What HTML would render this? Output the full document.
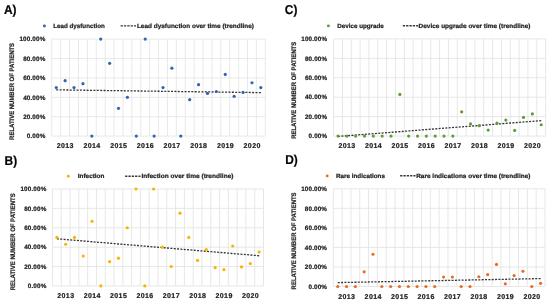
<!DOCTYPE html>
<html><head><meta charset="utf-8"><style>
html,body{margin:0;padding:0;background:#fff;}
svg{display:block;filter:blur(0.3px);}
text{text-rendering:geometricPrecision;stroke:#1e1e1e;stroke-width:0.22px;font-family:"Liberation Sans",sans-serif;font-weight:bold;}
</style></head><body>
<svg width="550" height="304" viewBox="0 0 550 304">
<rect width="550" height="304" fill="#fff"/>
<g stroke="#e6e6e6" stroke-width="0.9"><line x1="51.80" y1="39.10" x2="51.80" y2="136.10"/><line x1="60.70" y1="39.10" x2="60.70" y2="136.10"/><line x1="69.59" y1="39.10" x2="69.59" y2="136.10"/><line x1="78.49" y1="39.10" x2="78.49" y2="136.10"/><line x1="87.38" y1="39.10" x2="87.38" y2="136.10"/><line x1="96.28" y1="39.10" x2="96.28" y2="136.10"/><line x1="105.17" y1="39.10" x2="105.17" y2="136.10"/><line x1="114.07" y1="39.10" x2="114.07" y2="136.10"/><line x1="122.97" y1="39.10" x2="122.97" y2="136.10"/><line x1="131.86" y1="39.10" x2="131.86" y2="136.10"/><line x1="140.76" y1="39.10" x2="140.76" y2="136.10"/><line x1="149.65" y1="39.10" x2="149.65" y2="136.10"/><line x1="158.55" y1="39.10" x2="158.55" y2="136.10"/><line x1="167.45" y1="39.10" x2="167.45" y2="136.10"/><line x1="176.34" y1="39.10" x2="176.34" y2="136.10"/><line x1="185.24" y1="39.10" x2="185.24" y2="136.10"/><line x1="194.13" y1="39.10" x2="194.13" y2="136.10"/><line x1="203.03" y1="39.10" x2="203.03" y2="136.10"/><line x1="211.93" y1="39.10" x2="211.93" y2="136.10"/><line x1="220.82" y1="39.10" x2="220.82" y2="136.10"/><line x1="229.72" y1="39.10" x2="229.72" y2="136.10"/><line x1="238.61" y1="39.10" x2="238.61" y2="136.10"/><line x1="247.51" y1="39.10" x2="247.51" y2="136.10"/><line x1="256.40" y1="39.10" x2="256.40" y2="136.10"/><line x1="265.30" y1="39.10" x2="265.30" y2="136.10"/><line x1="51.80" y1="39.10" x2="265.30" y2="39.10"/><line x1="51.80" y1="58.50" x2="265.30" y2="58.50"/><line x1="51.80" y1="77.90" x2="265.30" y2="77.90"/><line x1="51.80" y1="97.30" x2="265.30" y2="97.30"/><line x1="51.80" y1="116.70" x2="265.30" y2="116.70"/><line x1="51.80" y1="136.10" x2="265.30" y2="136.10"/></g>
<g font-size="6.3" fill="#1e1e1e" letter-spacing="0.15"><text x="45.40" y="41.30" text-anchor="end">100.00%</text><text x="45.40" y="60.70" text-anchor="end">80.00%</text><text x="45.40" y="80.10" text-anchor="end">60.00%</text><text x="45.40" y="99.50" text-anchor="end">40.00%</text><text x="45.40" y="118.90" text-anchor="end">20.00%</text><text x="45.40" y="138.30" text-anchor="end">0.00%</text></g>
<g font-size="7" fill="#1e1e1e" letter-spacing="0.4"><text x="65.34" y="148.05" text-anchor="middle">2013</text><text x="92.03" y="148.05" text-anchor="middle">2014</text><text x="118.72" y="148.05" text-anchor="middle">2015</text><text x="145.41" y="148.05" text-anchor="middle">2016</text><text x="172.09" y="148.05" text-anchor="middle">2017</text><text x="198.78" y="148.05" text-anchor="middle">2018</text><text x="225.47" y="148.05" text-anchor="middle">2019</text><text x="252.16" y="148.05" text-anchor="middle">2020</text></g>
<text x="-48.5" y="0" font-size="6.5" fill="#1e1e1e" textLength="97" lengthAdjust="spacingAndGlyphs" transform="translate(14.00,91.40) rotate(-90)">RELATIVE NUMBER OF PATIENTS</text>
<text x="3.90" y="13.80" font-size="12.9" fill="#000" stroke="#000" textLength="12.60" lengthAdjust="spacingAndGlyphs">A)</text>
<circle cx="44.40" cy="26.00" r="1.45" fill="#3462B8"/>
<text x="53.30" y="27.90" font-size="6.2" fill="#1e1e1e" textLength="51.5" lengthAdjust="spacingAndGlyphs">Lead dysfunction</text>
<line x1="120.60" y1="25.90" x2="136.00" y2="25.90" stroke="#383838" stroke-width="1.4" stroke-dasharray="2.3 1.03"/>
<text x="136.90" y="27.90" font-size="6.2" fill="#1e1e1e" textLength="117.0" lengthAdjust="spacingAndGlyphs">Lead dysfunction over time (trendline)</text>
<line x1="56.25" y1="89.85" x2="260.85" y2="92.64" stroke="#333" stroke-width="1.3" stroke-dasharray="2.000 1.377"/>
<g fill="#3462B8"><circle cx="56.25" cy="87.60" r="1.6"/><circle cx="65.14" cy="80.71" r="1.6"/><circle cx="74.04" cy="87.60" r="1.6"/><circle cx="82.94" cy="83.72" r="1.6"/><circle cx="91.83" cy="136.10" r="1.6"/><circle cx="100.73" cy="39.10" r="1.6"/><circle cx="109.62" cy="63.35" r="1.6"/><circle cx="118.52" cy="108.36" r="1.6"/><circle cx="127.41" cy="97.30" r="1.6"/><circle cx="136.31" cy="136.10" r="1.6"/><circle cx="145.21" cy="39.10" r="1.6"/><circle cx="154.10" cy="136.10" r="1.6"/><circle cx="163.00" cy="87.60" r="1.6"/><circle cx="171.89" cy="68.20" r="1.6"/><circle cx="180.79" cy="136.10" r="1.6"/><circle cx="189.69" cy="99.72" r="1.6"/><circle cx="198.58" cy="84.69" r="1.6"/><circle cx="207.48" cy="93.42" r="1.6"/><circle cx="216.37" cy="91.48" r="1.6"/><circle cx="225.27" cy="74.41" r="1.6"/><circle cx="234.16" cy="96.33" r="1.6"/><circle cx="243.06" cy="92.45" r="1.6"/><circle cx="251.96" cy="82.75" r="1.6"/><circle cx="260.85" cy="87.60" r="1.6"/></g>
<g stroke="#e4e4e4" stroke-width="0.9"><line x1="52.50" y1="189.00" x2="52.50" y2="285.90"/><line x1="61.29" y1="189.00" x2="61.29" y2="285.90"/><line x1="70.08" y1="189.00" x2="70.08" y2="285.90"/><line x1="78.88" y1="189.00" x2="78.88" y2="285.90"/><line x1="87.67" y1="189.00" x2="87.67" y2="285.90"/><line x1="96.46" y1="189.00" x2="96.46" y2="285.90"/><line x1="105.25" y1="189.00" x2="105.25" y2="285.90"/><line x1="114.04" y1="189.00" x2="114.04" y2="285.90"/><line x1="122.83" y1="189.00" x2="122.83" y2="285.90"/><line x1="131.62" y1="189.00" x2="131.62" y2="285.90"/><line x1="140.42" y1="189.00" x2="140.42" y2="285.90"/><line x1="149.21" y1="189.00" x2="149.21" y2="285.90"/><line x1="158.00" y1="189.00" x2="158.00" y2="285.90"/><line x1="166.79" y1="189.00" x2="166.79" y2="285.90"/><line x1="175.58" y1="189.00" x2="175.58" y2="285.90"/><line x1="184.38" y1="189.00" x2="184.38" y2="285.90"/><line x1="193.17" y1="189.00" x2="193.17" y2="285.90"/><line x1="201.96" y1="189.00" x2="201.96" y2="285.90"/><line x1="210.75" y1="189.00" x2="210.75" y2="285.90"/><line x1="219.54" y1="189.00" x2="219.54" y2="285.90"/><line x1="228.33" y1="189.00" x2="228.33" y2="285.90"/><line x1="237.12" y1="189.00" x2="237.12" y2="285.90"/><line x1="245.92" y1="189.00" x2="245.92" y2="285.90"/><line x1="254.71" y1="189.00" x2="254.71" y2="285.90"/><line x1="263.50" y1="189.00" x2="263.50" y2="285.90"/><line x1="52.50" y1="189.00" x2="263.50" y2="189.00"/><line x1="52.50" y1="208.38" x2="263.50" y2="208.38"/><line x1="52.50" y1="227.76" x2="263.50" y2="227.76"/><line x1="52.50" y1="247.14" x2="263.50" y2="247.14"/><line x1="52.50" y1="266.52" x2="263.50" y2="266.52"/><line x1="52.50" y1="285.90" x2="263.50" y2="285.90"/></g>
<g font-size="6.3" fill="#1e1e1e" letter-spacing="0.15"><text x="46.40" y="191.20" text-anchor="end">100.00%</text><text x="46.40" y="210.58" text-anchor="end">80.00%</text><text x="46.40" y="229.96" text-anchor="end">60.00%</text><text x="46.40" y="249.34" text-anchor="end">40.00%</text><text x="46.40" y="268.72" text-anchor="end">20.00%</text><text x="46.40" y="288.10" text-anchor="end">0.00%</text></g>
<g font-size="7" fill="#1e1e1e" letter-spacing="0.4"><text x="65.89" y="298.40" text-anchor="middle">2013</text><text x="92.26" y="298.40" text-anchor="middle">2014</text><text x="118.64" y="298.40" text-anchor="middle">2015</text><text x="145.01" y="298.40" text-anchor="middle">2016</text><text x="171.39" y="298.40" text-anchor="middle">2017</text><text x="197.76" y="298.40" text-anchor="middle">2018</text><text x="224.14" y="298.40" text-anchor="middle">2019</text><text x="250.51" y="298.40" text-anchor="middle">2020</text></g>
<text x="-48.5" y="0" font-size="6.5" fill="#1e1e1e" textLength="97" lengthAdjust="spacingAndGlyphs" transform="translate(15.40,241.80) rotate(-90)">RELATIVE NUMBER OF PATIENTS</text>
<text x="4.60" y="164.70" font-size="12.9" fill="#000" stroke="#000" textLength="12.60" lengthAdjust="spacingAndGlyphs">B)</text>
<circle cx="68.30" cy="176.30" r="1.45" fill="#F7B500"/>
<text x="77.80" y="178.20" font-size="6.2" fill="#1e1e1e" textLength="26.6" lengthAdjust="spacingAndGlyphs">Infection</text>
<line x1="125.10" y1="176.20" x2="140.50" y2="176.20" stroke="#383838" stroke-width="1.4" stroke-dasharray="2.3 1.03"/>
<text x="141.40" y="178.20" font-size="6.2" fill="#1e1e1e" textLength="92.1" lengthAdjust="spacingAndGlyphs">Infection over time (trendline)</text>
<line x1="56.90" y1="238.78" x2="259.10" y2="255.73" stroke="#333" stroke-width="1.3" stroke-dasharray="2.000 1.349"/>
<g fill="#F7B500"><circle cx="56.90" cy="237.45" r="1.6"/><circle cx="65.69" cy="244.23" r="1.6"/><circle cx="74.48" cy="237.45" r="1.6"/><circle cx="83.27" cy="256.05" r="1.6"/><circle cx="92.06" cy="221.27" r="1.6"/><circle cx="100.85" cy="285.90" r="1.6"/><circle cx="109.65" cy="261.67" r="1.6"/><circle cx="118.44" cy="258.19" r="1.6"/><circle cx="127.23" cy="227.76" r="1.6"/><circle cx="136.02" cy="189.00" r="1.6"/><circle cx="144.81" cy="285.90" r="1.6"/><circle cx="153.60" cy="189.00" r="1.6"/><circle cx="162.40" cy="247.14" r="1.6"/><circle cx="171.19" cy="266.52" r="1.6"/><circle cx="179.98" cy="213.22" r="1.6"/><circle cx="188.77" cy="237.45" r="1.6"/><circle cx="197.56" cy="260.42" r="1.6"/><circle cx="206.35" cy="249.56" r="1.6"/><circle cx="215.15" cy="267.68" r="1.6"/><circle cx="223.94" cy="269.72" r="1.6"/><circle cx="232.73" cy="245.98" r="1.6"/><circle cx="241.52" cy="266.91" r="1.6"/><circle cx="250.31" cy="263.61" r="1.6"/><circle cx="259.10" cy="251.98" r="1.6"/></g>
<g stroke="#e4e4e4" stroke-width="0.9"><line x1="333.60" y1="38.90" x2="333.60" y2="136.10"/><line x1="342.43" y1="38.90" x2="342.43" y2="136.10"/><line x1="351.27" y1="38.90" x2="351.27" y2="136.10"/><line x1="360.10" y1="38.90" x2="360.10" y2="136.10"/><line x1="368.93" y1="38.90" x2="368.93" y2="136.10"/><line x1="377.77" y1="38.90" x2="377.77" y2="136.10"/><line x1="386.60" y1="38.90" x2="386.60" y2="136.10"/><line x1="395.43" y1="38.90" x2="395.43" y2="136.10"/><line x1="404.27" y1="38.90" x2="404.27" y2="136.10"/><line x1="413.10" y1="38.90" x2="413.10" y2="136.10"/><line x1="421.93" y1="38.90" x2="421.93" y2="136.10"/><line x1="430.77" y1="38.90" x2="430.77" y2="136.10"/><line x1="439.60" y1="38.90" x2="439.60" y2="136.10"/><line x1="448.43" y1="38.90" x2="448.43" y2="136.10"/><line x1="457.27" y1="38.90" x2="457.27" y2="136.10"/><line x1="466.10" y1="38.90" x2="466.10" y2="136.10"/><line x1="474.93" y1="38.90" x2="474.93" y2="136.10"/><line x1="483.77" y1="38.90" x2="483.77" y2="136.10"/><line x1="492.60" y1="38.90" x2="492.60" y2="136.10"/><line x1="501.43" y1="38.90" x2="501.43" y2="136.10"/><line x1="510.27" y1="38.90" x2="510.27" y2="136.10"/><line x1="519.10" y1="38.90" x2="519.10" y2="136.10"/><line x1="527.93" y1="38.90" x2="527.93" y2="136.10"/><line x1="536.77" y1="38.90" x2="536.77" y2="136.10"/><line x1="545.60" y1="38.90" x2="545.60" y2="136.10"/><line x1="333.60" y1="38.90" x2="545.60" y2="38.90"/><line x1="333.60" y1="58.34" x2="545.60" y2="58.34"/><line x1="333.60" y1="77.78" x2="545.60" y2="77.78"/><line x1="333.60" y1="97.22" x2="545.60" y2="97.22"/><line x1="333.60" y1="116.66" x2="545.60" y2="116.66"/><line x1="333.60" y1="136.10" x2="545.60" y2="136.10"/></g>
<g font-size="6.3" fill="#1e1e1e" letter-spacing="0.15"><text x="327.20" y="41.10" text-anchor="end">100.00%</text><text x="327.20" y="60.54" text-anchor="end">80.00%</text><text x="327.20" y="79.98" text-anchor="end">60.00%</text><text x="327.20" y="99.42" text-anchor="end">40.00%</text><text x="327.20" y="118.86" text-anchor="end">20.00%</text><text x="327.20" y="138.30" text-anchor="end">0.00%</text></g>
<g font-size="7" fill="#1e1e1e" letter-spacing="0.4"><text x="347.05" y="147.90" text-anchor="middle">2013</text><text x="373.55" y="147.90" text-anchor="middle">2014</text><text x="400.05" y="147.90" text-anchor="middle">2015</text><text x="426.55" y="147.90" text-anchor="middle">2016</text><text x="453.05" y="147.90" text-anchor="middle">2017</text><text x="479.55" y="147.90" text-anchor="middle">2018</text><text x="506.05" y="147.90" text-anchor="middle">2019</text><text x="532.55" y="147.90" text-anchor="middle">2020</text></g>
<text x="-48.5" y="0" font-size="6.5" fill="#1e1e1e" textLength="97" lengthAdjust="spacingAndGlyphs" transform="translate(296.10,90.30) rotate(-90)">RELATIVE NUMBER OF PATIENTS</text>
<text x="284.80" y="13.80" font-size="12.9" fill="#000" stroke="#000" textLength="12.60" lengthAdjust="spacingAndGlyphs">C)</text>
<circle cx="328.40" cy="25.90" r="1.45" fill="#5E9E3A"/>
<text x="337.30" y="27.80" font-size="6.2" fill="#1e1e1e" textLength="46.5" lengthAdjust="spacingAndGlyphs">Device upgrade</text>
<line x1="402.80" y1="25.80" x2="418.20" y2="25.80" stroke="#383838" stroke-width="1.4" stroke-dasharray="2.3 1.03"/>
<text x="418.60" y="27.80" font-size="6.2" fill="#1e1e1e" textLength="111.8" lengthAdjust="spacingAndGlyphs">Device upgrade over time (trendline)</text>
<line x1="338.02" y1="136.43" x2="541.18" y2="120.66" stroke="#333" stroke-width="1.3" stroke-dasharray="2.000 1.363"/>
<g fill="#5E9E3A"><circle cx="338.02" cy="136.10" r="1.6"/><circle cx="346.85" cy="136.10" r="1.6"/><circle cx="355.68" cy="136.10" r="1.6"/><circle cx="364.52" cy="136.10" r="1.6"/><circle cx="373.35" cy="136.10" r="1.6"/><circle cx="382.18" cy="136.10" r="1.6"/><circle cx="391.02" cy="136.10" r="1.6"/><circle cx="399.85" cy="94.40" r="1.6"/><circle cx="408.68" cy="136.10" r="1.6"/><circle cx="417.52" cy="136.10" r="1.6"/><circle cx="426.35" cy="136.10" r="1.6"/><circle cx="435.18" cy="136.10" r="1.6"/><circle cx="444.02" cy="136.10" r="1.6"/><circle cx="452.85" cy="136.10" r="1.6"/><circle cx="461.68" cy="111.80" r="1.6"/><circle cx="470.52" cy="123.95" r="1.6"/><circle cx="479.35" cy="125.70" r="1.6"/><circle cx="488.18" cy="130.07" r="1.6"/><circle cx="497.02" cy="123.17" r="1.6"/><circle cx="505.85" cy="120.06" r="1.6"/><circle cx="514.68" cy="130.46" r="1.6"/><circle cx="523.52" cy="117.44" r="1.6"/><circle cx="532.35" cy="113.94" r="1.6"/><circle cx="541.18" cy="124.73" r="1.6"/></g>
<g stroke="#e4e4e4" stroke-width="0.9"><line x1="333.30" y1="188.80" x2="333.30" y2="286.50"/><line x1="342.12" y1="188.80" x2="342.12" y2="286.50"/><line x1="350.94" y1="188.80" x2="350.94" y2="286.50"/><line x1="359.76" y1="188.80" x2="359.76" y2="286.50"/><line x1="368.58" y1="188.80" x2="368.58" y2="286.50"/><line x1="377.40" y1="188.80" x2="377.40" y2="286.50"/><line x1="386.23" y1="188.80" x2="386.23" y2="286.50"/><line x1="395.05" y1="188.80" x2="395.05" y2="286.50"/><line x1="403.87" y1="188.80" x2="403.87" y2="286.50"/><line x1="412.69" y1="188.80" x2="412.69" y2="286.50"/><line x1="421.51" y1="188.80" x2="421.51" y2="286.50"/><line x1="430.33" y1="188.80" x2="430.33" y2="286.50"/><line x1="439.15" y1="188.80" x2="439.15" y2="286.50"/><line x1="447.97" y1="188.80" x2="447.97" y2="286.50"/><line x1="456.79" y1="188.80" x2="456.79" y2="286.50"/><line x1="465.61" y1="188.80" x2="465.61" y2="286.50"/><line x1="474.43" y1="188.80" x2="474.43" y2="286.50"/><line x1="483.25" y1="188.80" x2="483.25" y2="286.50"/><line x1="492.07" y1="188.80" x2="492.07" y2="286.50"/><line x1="500.90" y1="188.80" x2="500.90" y2="286.50"/><line x1="509.72" y1="188.80" x2="509.72" y2="286.50"/><line x1="518.54" y1="188.80" x2="518.54" y2="286.50"/><line x1="527.36" y1="188.80" x2="527.36" y2="286.50"/><line x1="536.18" y1="188.80" x2="536.18" y2="286.50"/><line x1="545.00" y1="188.80" x2="545.00" y2="286.50"/><line x1="333.30" y1="188.80" x2="545.00" y2="188.80"/><line x1="333.30" y1="208.34" x2="545.00" y2="208.34"/><line x1="333.30" y1="227.88" x2="545.00" y2="227.88"/><line x1="333.30" y1="247.42" x2="545.00" y2="247.42"/><line x1="333.30" y1="266.96" x2="545.00" y2="266.96"/><line x1="333.30" y1="286.50" x2="545.00" y2="286.50"/></g>
<g font-size="6.3" fill="#1e1e1e" letter-spacing="0.15"><text x="327.10" y="191.00" text-anchor="end">100.00%</text><text x="327.10" y="210.54" text-anchor="end">80.00%</text><text x="327.10" y="230.08" text-anchor="end">60.00%</text><text x="327.10" y="249.62" text-anchor="end">40.00%</text><text x="327.10" y="269.16" text-anchor="end">20.00%</text><text x="327.10" y="288.70" text-anchor="end">0.00%</text></g>
<g font-size="7" fill="#1e1e1e" letter-spacing="0.4"><text x="346.73" y="298.60" text-anchor="middle">2013</text><text x="373.19" y="298.60" text-anchor="middle">2014</text><text x="399.66" y="298.60" text-anchor="middle">2015</text><text x="426.12" y="298.60" text-anchor="middle">2016</text><text x="452.58" y="298.60" text-anchor="middle">2017</text><text x="479.04" y="298.60" text-anchor="middle">2018</text><text x="505.51" y="298.60" text-anchor="middle">2019</text><text x="531.97" y="298.60" text-anchor="middle">2020</text></g>
<text x="-48.5" y="0" font-size="6.5" fill="#1e1e1e" textLength="97" lengthAdjust="spacingAndGlyphs" transform="translate(296.20,240.90) rotate(-90)">RELATIVE NUMBER OF PATIENTS</text>
<text x="285.20" y="164.40" font-size="12.9" fill="#000" stroke="#000" textLength="12.60" lengthAdjust="spacingAndGlyphs">D)</text>
<circle cx="327.20" cy="175.90" r="1.45" fill="#E86C25"/>
<text x="336.00" y="177.80" font-size="6.2" fill="#1e1e1e" textLength="48.9" lengthAdjust="spacingAndGlyphs">Rare indications</text>
<line x1="400.10" y1="175.80" x2="415.50" y2="175.80" stroke="#383838" stroke-width="1.4" stroke-dasharray="2.3 1.03"/>
<text x="416.20" y="177.80" font-size="6.2" fill="#1e1e1e" textLength="114.2" lengthAdjust="spacingAndGlyphs">Rare indications over time (trendline)</text>
<line x1="337.71" y1="282.60" x2="540.59" y2="278.59" stroke="#333" stroke-width="1.3" stroke-dasharray="2.000 1.349"/>
<g fill="#E86C25"><circle cx="337.71" cy="286.50" r="1.6"/><circle cx="346.53" cy="286.50" r="1.6"/><circle cx="355.35" cy="286.50" r="1.6"/><circle cx="364.17" cy="271.85" r="1.6"/><circle cx="372.99" cy="254.26" r="1.6"/><circle cx="381.81" cy="286.50" r="1.6"/><circle cx="390.64" cy="286.50" r="1.6"/><circle cx="399.46" cy="286.50" r="1.6"/><circle cx="408.28" cy="286.50" r="1.6"/><circle cx="417.10" cy="286.50" r="1.6"/><circle cx="425.92" cy="286.50" r="1.6"/><circle cx="434.74" cy="286.50" r="1.6"/><circle cx="443.56" cy="277.02" r="1.6"/><circle cx="452.38" cy="277.02" r="1.6"/><circle cx="461.20" cy="286.50" r="1.6"/><circle cx="470.02" cy="286.50" r="1.6"/><circle cx="478.84" cy="276.73" r="1.6"/><circle cx="487.66" cy="274.58" r="1.6"/><circle cx="496.49" cy="264.42" r="1.6"/><circle cx="505.31" cy="283.86" r="1.6"/><circle cx="514.13" cy="275.56" r="1.6"/><circle cx="522.95" cy="271.26" r="1.6"/><circle cx="531.77" cy="286.50" r="1.6"/><circle cx="540.59" cy="283.28" r="1.6"/></g>
</svg></body></html>
